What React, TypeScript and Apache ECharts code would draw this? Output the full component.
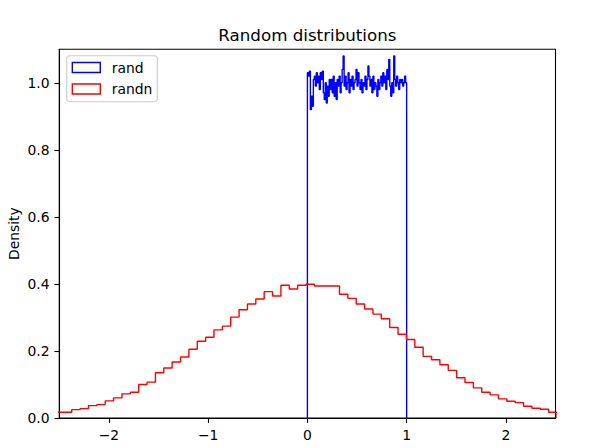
import { useEffect, useRef } from "react";
import * as echarts from "echarts";

// uniform sample histogram, 100 bins on [0, 1]
const randBinStart = 0;
const randBinWidth = 0.01;
const randDensity = [
  1.03, 1.02, 1.035, 0.92, 0.96, 0.93, 1.01, 1.02, 0.99, 1.03,
  1.0, 1.02, 0.98, 1.03, 1.01, 1.035, 0.97, 0.95, 1.0, 0.94,
  0.99, 0.96, 1.01, 0.98, 1.01, 0.97, 1.02, 0.96, 1.0, 0.95,
  1.01, 0.99, 1.02, 0.97, 1.0, 1.04, 1.08, 0.99, 1.02, 0.98,
  1.0, 1.03, 0.97, 1.01, 0.99, 1.02, 0.98, 1.0, 1.01, 1.04,
  0.99, 1.03, 1.0, 0.98, 1.01, 0.97, 1.0, 0.99, 1.02, 0.98,
  1.01, 1.05, 1.02, 0.99, 1.01, 0.97, 1.02, 0.98, 1.0, 0.99,
  0.96, 1.01, 0.98, 1.0, 1.02, 0.99, 1.03, 1.0, 1.02, 0.98,
  1.04, 1.01, 1.07, 0.99, 0.96, 1.0, 0.97, 1.08, 1.01, 0.99,
  1.02, 1.0, 0.98, 1.01, 1.0, 1.01, 0.99, 1.0, 1.02, 1.0,
];

// normal sample histogram, visible bins only
const randnBinStart = -2.5432;
const randnBinWidth = 0.08431;
const randnDensity = [
  0.017, 0.017, 0.025, 0.028, 0.037, 0.04, 0.051, 0.06, 0.072, 0.077,
  0.1, 0.107, 0.135, 0.149, 0.167, 0.182, 0.205, 0.229, 0.241, 0.263,
  0.274, 0.301, 0.323, 0.34, 0.355, 0.377, 0.364, 0.396, 0.385, 0.396,
  0.399, 0.394, 0.394, 0.394, 0.369, 0.357, 0.34, 0.325, 0.31, 0.296,
  0.27, 0.25, 0.234, 0.211, 0.184, 0.174, 0.159, 0.142, 0.12, 0.106,
  0.09, 0.077, 0.069, 0.057, 0.05, 0.046, 0.035, 0.029, 0.026, 0.017,
];

const xTicks = [-2, -1, 0, 1, 2];
const yTicks = [0, 0.2, 0.4, 0.6, 0.8, 1.0];

const FONT = '"DejaVu Sans", sans-serif';

// outline of a step histogram, like histtype="step"
function stepOutline(start: number, width: number, values: number[]) {
  const pts: number[][] = [[start, 0]];
  values.forEach((v, i) => {
    pts.push([start + i * width, v]);
    pts.push([start + (i + 1) * width, v]);
  });
  pts.push([start + values.length * width, 0]);
  return pts;
}

export default function App() {
  const chartRef = useRef<HTMLDivElement>(null);

  useEffect(() => {
    document.body.style.margin = "0";
    if (!chartRef.current) return;
    const chart = echarts.init(chartRef.current, null, { renderer: "svg" });

    const tickLabel = {
      color: "#000",
      fontFamily: FONT,
      fontSize: 13.9,
      margin: 9.8,
    };

    chart.setOption({
      animation: false,
      backgroundColor: "#fff",
      grid: {
        left: 59.3,
        top: 49.3,
        right: 41.5,
        bottom: 30,
        containLabel: false,
        outerBoundsMode: "none",
        show: true,
        borderColor: "#000",
        borderWidth: 1.1,
        backgroundColor: "transparent",
      },
      xAxis: {
        type: "value",
        min: -2.5,
        max: 2.5,
        axisLine: {
          show: true,
          onZero: false,
          lineStyle: { color: "#000", width: 1.1 },
        },
        axisTick: {
          show: true,
          length: 4.9,
          customValues: xTicks,
          lineStyle: { color: "#000", width: 1.1 },
        },
        axisLabel: {
          ...tickLabel,
          customValues: xTicks,
          formatter: (v: number) => String(v).replace("-", "\u2212"),
        },
        splitLine: { show: false },
      },
      yAxis: {
        type: "value",
        min: 0,
        max: 1.1,
        name: "Density",
        nameLocation: "middle",
        nameGap: 38,
        nameMoveOverlap: false,
        nameTextStyle: { color: "#000", fontFamily: FONT, fontSize: 13.9 },
        axisLine: {
          show: true,
          onZero: false,
          lineStyle: { color: "#000", width: 1.1 },
        },
        axisTick: {
          show: true,
          length: 4.9,
          customValues: yTicks,
          lineStyle: { color: "#000", width: 1.1 },
        },
        axisLabel: {
          ...tickLabel,
          customValues: yTicks,
          formatter: (v: number) => v.toFixed(1),
        },
        splitLine: { show: false },
      },
      series: [
        {
          name: "rand",
          type: "line",
          data: stepOutline(randBinStart, randBinWidth, randDensity),
          showSymbol: false,
          symbol: "none",
          clip: true,
          lineStyle: { color: "#0000ff", width: 1.4 },
        },
        {
          name: "randn",
          type: "line",
          data: stepOutline(randnBinStart, randnBinWidth, randnDensity),
          showSymbol: false,
          symbol: "none",
          clip: true,
          lineStyle: { color: "#ff0000", width: 1.4 },
        },
      ],
      graphic: [
        {
          type: "text",
          style: {
            text: "Random distributions",
            x: 307.4,
            y: 35,
            align: "center",
            verticalAlign: "middle",
            font: `16.7px ${FONT}`,
            fill: "#000",
          },
        },
        {
          type: "group",
          children: [
            {
              type: "rect",
              shape: { x: 66.7, y: 55.7, width: 90.6, height: 46, r: 3 },
              style: {
                fill: "rgba(255,255,255,0.8)",
                stroke: "#cccccc",
                lineWidth: 1.1,
              },
            },
            {
              type: "rect",
              shape: { x: 72.3, y: 62.5, width: 28, height: 10 },
              style: { fill: "none", stroke: "#0000ff", lineWidth: 1.4 },
            },
            {
              type: "rect",
              shape: { x: 72.3, y: 84, width: 28, height: 10 },
              style: { fill: "none", stroke: "#ff0000", lineWidth: 1.4 },
            },
            {
              type: "text",
              style: {
                text: "rand",
                x: 111.7,
                y: 67.7,
                verticalAlign: "middle",
                font: `13.9px ${FONT}`,
                fill: "#000",
              },
            },
            {
              type: "text",
              style: {
                text: "randn",
                x: 111.7,
                y: 89.3,
                verticalAlign: "middle",
                font: `13.9px ${FONT}`,
                fill: "#000",
              },
            },
          ],
        },
      ],
    });

    return () => {
      chart.dispose();
    };
  }, []);

  return <div ref={chartRef} style={{ width: 597, height: 448 }} />;
}
